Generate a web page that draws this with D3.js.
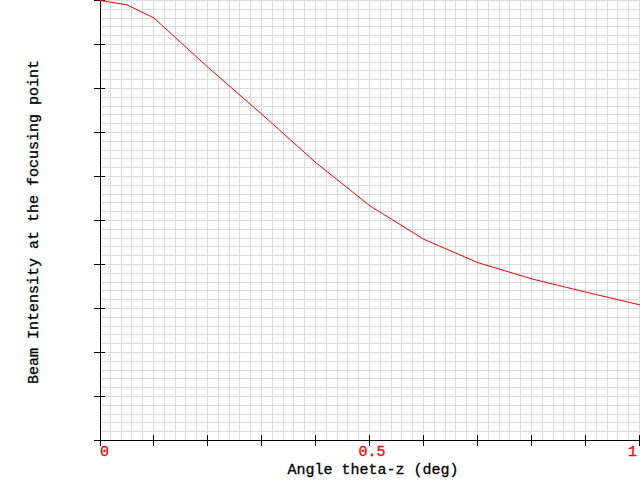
<!DOCTYPE html>
<html><head><meta charset="utf-8">
<script src="https://cdn.jsdelivr.net/npm/d3@7"></script>
<style>html,body{margin:0;padding:0;background:#fff;}svg{display:block;}</style>
</head><body>
<svg id="c" width="640" height="480"></svg>
<script>
const angles = [0, 0.05, 0.1, 0.2, 0.3, 0.4, 0.5, 0.6, 0.7, 0.8, 0.9, 1.0];
const intensity = [0.999, 0.989, 0.959, 0.847, 0.740, 0.630, 0.532, 0.456, 0.403, 0.366, 0.336, 0.307];
const xTickLabels = [{v:0, t:"0"}, {v:0.5, t:"0.5"}, {v:1, t:"1"}];
const xTitle = "Angle theta-z (deg)";
const yTitle = "Beam Intensity at the focusing point";

const svg = d3.select("#c");
const L = 100, R = 640, T = 0, B = 440;
const x = d3.scaleLinear().domain([0, 1]).range([L, R]);
const y = d3.scaleLinear().domain([0, 1]).range([B, T]);
const font = "'Liberation Mono', 'DejaVu Sans Mono', monospace";

// grid
const g = svg.append("g").attr("shape-rendering", "crispEdges");
const minorX = d3.range(1, 51).map(i => i / 50);
const minorY = d3.range(1, 51).map(i => i / 50);
g.selectAll(".gx").data(minorX).join("line")
  .attr("x1", d => Math.round(x(d)) - 0.5).attr("x2", d => Math.round(x(d)) - 0.5)
  .attr("y1", T).attr("y2", B).attr("stroke", "#dcdcdc");
g.selectAll(".gy").data(minorY).join("line")
  .attr("y1", d => Math.round(y(d)) + 0.5).attr("y2", d => Math.round(y(d)) + 0.5)
  .attr("x1", L).attr("x2", R).attr("stroke", "#dcdcdc");

// axes
const a = svg.append("g").attr("shape-rendering", "crispEdges").attr("stroke", "#000");
a.append("line").attr("x1", L - 6).attr("x2", R).attr("y1", B + 0.5).attr("y2", B + 0.5);
a.append("line").attr("x1", L + 0.5).attr("x2", L + 0.5).attr("y1", T).attr("y2", B + 6);
const majorX = d3.range(1, 11).map(i => i / 10);
a.selectAll(".tx").data(majorX).join("line")
  .attr("x1", d => Math.round(x(d)) - 0.5).attr("x2", d => Math.round(x(d)) - 0.5)
  .attr("y1", B - 5).attr("y2", B + 6);
const majorY = d3.range(1, 11).map(i => i / 10);
a.selectAll(".ty").data(majorY).join("line")
  .attr("y1", d => Math.round(y(d)) + 0.5).attr("y2", d => Math.round(y(d)) + 0.5)
  .attr("x1", L - 6).attr("x2", L + 5);

// curve
svg.append("path")
  .datum(angles.map((d, i) => [d, intensity[i]]))
  .attr("fill", "none").attr("stroke", "#f00").attr("stroke-width", 1)
  .attr("d", d3.line().x(d => x(d[0])).y(d => y(d[1])));

// tick labels
const anchors = ["start", "middle", "end"];
const offs = [0, 2, -3];
svg.selectAll(".xl").data(xTickLabels).join("text")
  .attr("x", (d, i) => x(d.v) + offs[i]).attr("y", 456)
  .attr("text-anchor", (d, i) => anchors[i])
  .attr("font-family", font).attr("font-size", 15).attr("fill", "#f00")
  .attr("stroke", "#f00").attr("stroke-width", 0.3)
  .text(d => d.t);

svg.append("text").attr("x", 373).attr("y", 474).attr("text-anchor", "middle")
  .attr("font-family", font).attr("font-size", 15).attr("fill", "#000")
  .attr("stroke", "#000").attr("stroke-width", 0.3).text(xTitle);
svg.append("text").attr("transform", "translate(38,222) rotate(-90)").attr("text-anchor", "middle")
  .attr("font-family", font).attr("font-size", 15).attr("fill", "#000")
  .attr("stroke", "#000").attr("stroke-width", 0.3).text(yTitle);
</script>
</body></html>
